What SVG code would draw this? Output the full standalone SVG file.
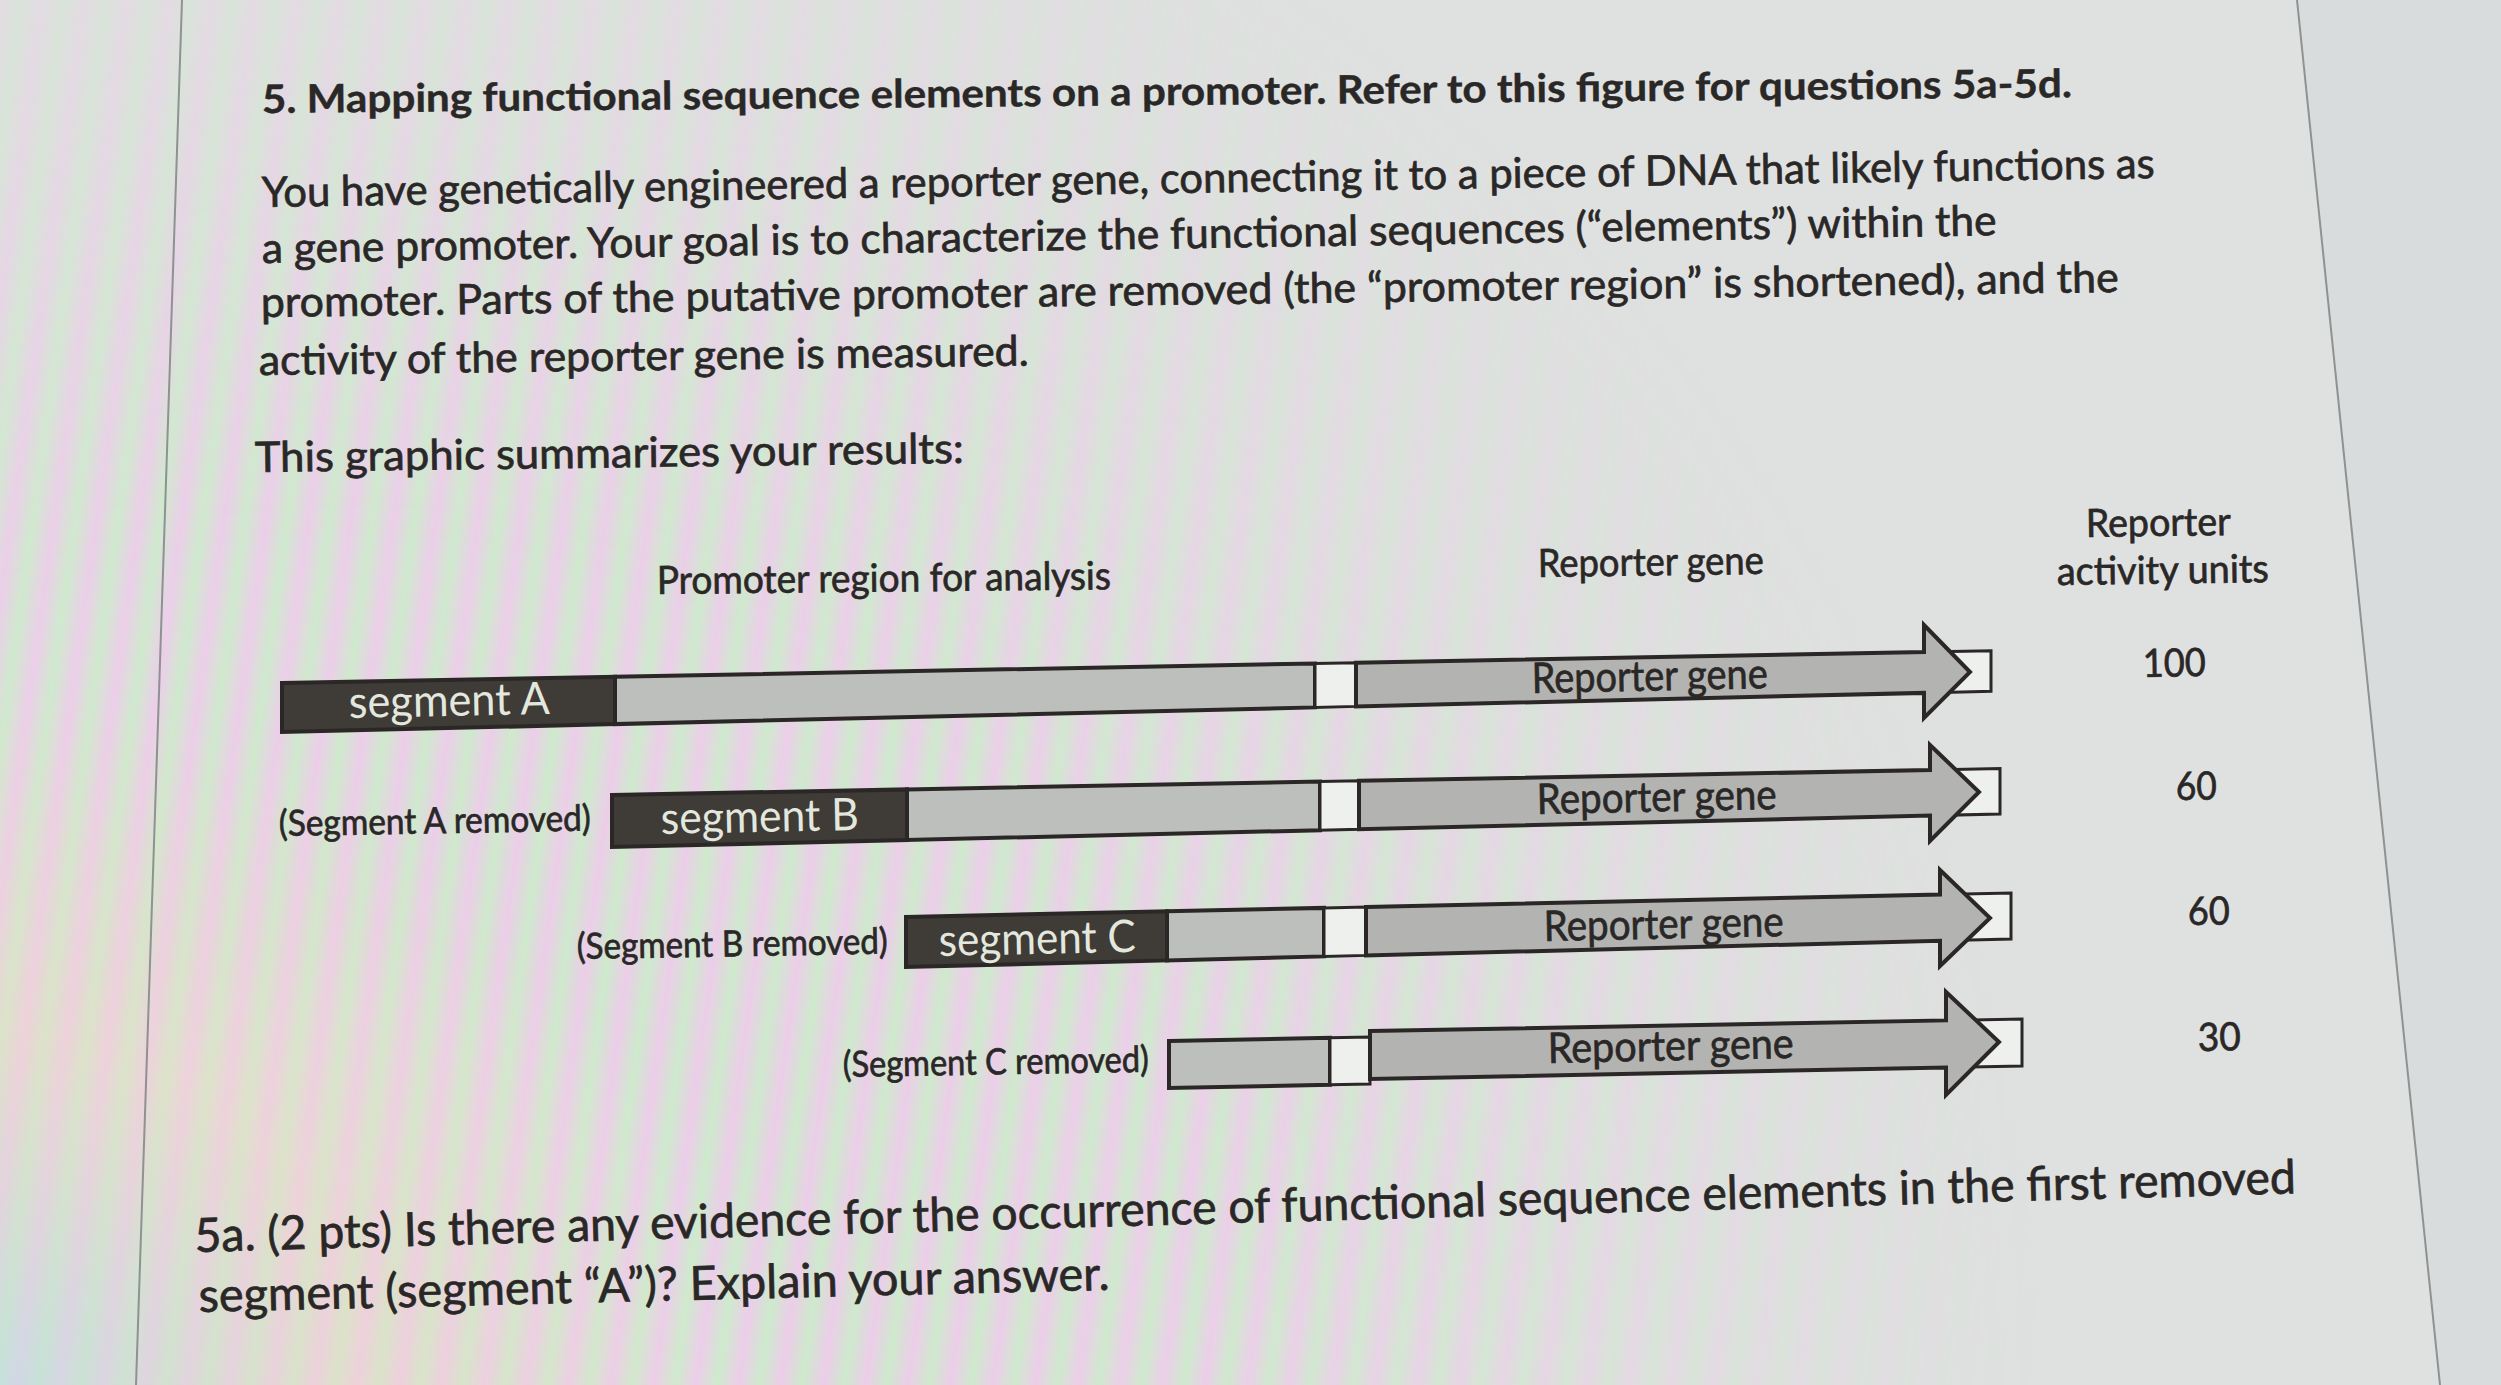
<svg xmlns="http://www.w3.org/2000/svg" width="2501" height="1385" viewBox="0 0 2501 1385">
<style>
.t{font-family:Lato,"Open Sans","Liberation Sans",sans-serif;fill:#2a2727;stroke:#2a2727;stroke-width:0.7}
.b{font-weight:bold;stroke-width:0.4}
.p{font-size:42px}
.lbl{font-size:36px}
.hd{font-size:39px}
.seg{font-family:Lato,"Open Sans","Liberation Sans",sans-serif;font-size:45px;fill:#e3e8de}
.rg{font-size:42px}
.dark{fill:#3f3b37;stroke:#2b2727;stroke-width:4;stroke-linejoin:miter}
.grey{fill:#bdbfbc;stroke:#2b2727;stroke-width:4}
.white{fill:#eef0ee;stroke:#2b2727;stroke-width:3}
.arrow{fill:#b3b4b1;stroke:#2b2727;stroke-width:4;stroke-linejoin:miter}
.edge{stroke:#8e9292;stroke-width:2;fill:none}
</style>
<defs>
<linearGradient id="stripeGrad" x1="0" x2="1" y1="0" y2="0">
<stop offset="0" stop-color="#edccea"/>
<stop offset="0.5" stop-color="#cdeacb"/>
<stop offset="1" stop-color="#edccea"/>
</linearGradient>
<pattern id="moire" width="42" height="40" patternUnits="userSpaceOnUse" patternTransform="rotate(8)">
<rect width="42" height="40" fill="url(#stripeGrad)"/>
</pattern>
<radialGradient id="fade" cx="350" cy="1385" r="1700" gradientUnits="userSpaceOnUse">
<stop offset="0" stop-color="#ffffff"/>
<stop offset="0.5" stop-color="#f0f0f0"/>
<stop offset="0.75" stop-color="#707070"/>
<stop offset="1" stop-color="#000000"/>
</radialGradient>
<mask id="moireMask"><rect width="2501" height="1385" fill="url(#fade)"/></mask>
<radialGradient id="tint" cx="0" cy="1385" r="700" gradientUnits="userSpaceOnUse">
<stop offset="0" stop-color="#bcdde2" stop-opacity="0.6"/>
<stop offset="0.5" stop-color="#f0d8c4" stop-opacity="0.4"/>
<stop offset="1" stop-color="#f0d8c4" stop-opacity="0"/>
</radialGradient>
</defs>

<g id="background">
<rect width="2501" height="1385" fill="#dfe1e0"/>
<rect width="2501" height="1385" fill="url(#moire)" mask="url(#moireMask)"/>
<rect width="2501" height="1385" fill="url(#tint)"/>
<polygon points="2297,0 2501,0 2501,1385 2440,1385" fill="#d9dcdc"/>
<line class="edge" x1="182" y1="0" x2="136" y2="1385"/>
<line class="edge" x1="2297" y1="0" x2="2440" y2="1385"/>
</g>

<g id="question-text">
<text class="t b" font-size="39" x="262" y="113" textLength="1810" lengthAdjust="spacingAndGlyphs" transform="rotate(-0.5 262 113)">5. Mapping functional sequence elements on a promoter. Refer to this figure for questions 5a-5d.</text>
<text class="t p" x="262" y="207" textLength="1893" lengthAdjust="spacingAndGlyphs" transform="rotate(-0.88 262 207)">You have genetically engineered a reporter gene, connecting it to a piece of DNA that likely functions as</text>
<text class="t p" x="262" y="263" textLength="1735" lengthAdjust="spacingAndGlyphs" transform="rotate(-0.92 262 263)">a gene promoter. Your goal is to characterize the functional sequences (“elements”) within the</text>
<text class="t p" x="261" y="317" textLength="1858" lengthAdjust="spacingAndGlyphs" transform="rotate(-0.77 261 317)">promoter. Parts of the putative promoter are removed (the “promoter region” is shortened), and the</text>
<text class="t p" x="259" y="375" textLength="770" lengthAdjust="spacingAndGlyphs" transform="rotate(-0.7 259 375)">activity of the reporter gene is measured.</text>
<text class="t p" x="255" y="472" textLength="709" lengthAdjust="spacingAndGlyphs" transform="rotate(-0.73 255 472)">This graphic summarizes your results:</text>
<text class="t" font-size="47" x="195" y="1252" textLength="2102" lengthAdjust="spacingAndGlyphs" transform="rotate(-1.6 195 1252)">5a. (2 pts) Is there any evidence for the occurrence of functional sequence elements in the first removed</text>
<text class="t" font-size="47" x="199" y="1312" textLength="911" lengthAdjust="spacingAndGlyphs" transform="rotate(-1.4 199 1312)">segment (segment “A”)? Explain your answer.</text>
</g>

<g id="headers">
<text class="t hd" x="657" y="594" textLength="454" lengthAdjust="spacingAndGlyphs" transform="rotate(-0.6 657 594)">Promoter region for analysis</text>
<text class="t hd" x="1538" y="577" textLength="226" lengthAdjust="spacingAndGlyphs" transform="rotate(-0.8 1538 577)">Reporter gene</text>
<text class="t hd" x="2086" y="537" textLength="145" lengthAdjust="spacingAndGlyphs" transform="rotate(-0.8 2086 537)">Reporter</text>
<text class="t hd" x="2057" y="585" textLength="212" lengthAdjust="spacingAndGlyphs" transform="rotate(-0.8 2057 585)">activity units</text>
</g>

<g id="row1">
<polygon class="dark" points="282,683 615,676.7 615,724.1 282,732"/>
<polygon class="grey" points="615,676.7 1315,663.5 1315,707.4 615,724.1"/>
<polygon class="white" points="1315,663.5 1356,662.7 1356,706.4 1315,707.4"/>
<polygon class="white" points="1924,652 1991,650.7 1991,691.3 1924,692.9"/>
<polygon class="arrow" points="1356,662.7 1924,652 1924,625 1970,672 1924,718 1924,692.9 1356,706.4"/>
<text class="seg" x="349" y="718" textLength="201" lengthAdjust="spacingAndGlyphs" transform="rotate(-1.2 349 718)">segment A</text>
<text class="t rg" x="1532" y="693" textLength="236" lengthAdjust="spacingAndGlyphs" transform="rotate(-1.2 1532 693)">Reporter gene</text>
<text class="t hd" x="2143" y="677" textLength="63" lengthAdjust="spacingAndGlyphs" transform="rotate(-1 2143 677)">100</text>
</g>

<g id="row2">
<text class="t lbl" x="279" y="836" textLength="312" lengthAdjust="spacingAndGlyphs" transform="rotate(-1 279 836)">(Segment A removed)</text>
<polygon class="dark" points="612,795 907,789.4 907,840 612,847"/>
<polygon class="grey" points="907,789.4 1320,781.5 1320,830.2 907,840"/>
<polygon class="white" points="1320,781.5 1359,780.8 1359,829.2 1320,830.2"/>
<polygon class="white" points="1930,770 2000,768.6 2000,814 1930,815.6"/>
<polygon class="arrow" points="1359,780.8 1930,770 1930,745 1979,792 1930,841 1930,815.6 1359,829.2"/>
<text class="seg" x="661" y="834" textLength="198" lengthAdjust="spacingAndGlyphs" transform="rotate(-1.2 661 834)">segment B</text>
<text class="t rg" x="1537" y="814" textLength="240" lengthAdjust="spacingAndGlyphs" transform="rotate(-1.2 1537 814)">Reporter gene</text>
<text class="t hd" x="2176" y="800" textLength="41" lengthAdjust="spacingAndGlyphs" transform="rotate(-1 2176 800)">60</text>
</g>

<g id="row3">
<text class="t lbl" x="577" y="959" textLength="311" lengthAdjust="spacingAndGlyphs" transform="rotate(-1 577 959)">(Segment B removed)</text>
<polygon class="dark" points="906,917 1167,911.3 1167,960.4 906,967"/>
<polygon class="grey" points="1167,911.3 1324,907.9 1324,956.4 1167,960.4"/>
<polygon class="white" points="1324,907.9 1366,907 1366,955.4 1324,956.4"/>
<polygon class="white" points="1940,894.6 2011,893 2011,939 1940,940.8"/>
<polygon class="arrow" points="1366,907 1940,894.6 1940,870 1990,918 1940,966 1940,940.8 1366,955.4"/>
<text class="seg" x="939" y="956" textLength="197" lengthAdjust="spacingAndGlyphs" transform="rotate(-1.2 939 956)">segment C</text>
<text class="t rg" x="1544" y="941" textLength="240" lengthAdjust="spacingAndGlyphs" transform="rotate(-1.2 1544 941)">Reporter gene</text>
<text class="t hd" x="2188" y="925" textLength="42" lengthAdjust="spacingAndGlyphs" transform="rotate(-1 2188 925)">60</text>
</g>

<g id="row4">
<text class="t lbl" x="843" y="1077" textLength="306" lengthAdjust="spacingAndGlyphs" transform="rotate(-1 843 1077)">(Segment C removed)</text>
<polygon class="grey" points="1169,1041 1330,1037.8 1330,1084.8 1169,1088"/>
<polygon class="white" points="1330,1037.8 1370,1037 1370,1084 1330,1084.8"/>
<polygon class="white" points="1946,1020.4 2022,1019 2022,1066 1946,1067.5"/>
<polygon class="arrow" points="1370,1031 1946,1020.4 1946,992 1999,1042 1946,1095 1946,1067.5 1370,1079"/>
<text class="t rg" x="1548" y="1063" textLength="246" lengthAdjust="spacingAndGlyphs" transform="rotate(-1.2 1548 1063)">Reporter gene</text>
<text class="t hd" x="2198" y="1051" textLength="43" lengthAdjust="spacingAndGlyphs" transform="rotate(-1 2198 1051)">30</text>
</g>
</svg>
